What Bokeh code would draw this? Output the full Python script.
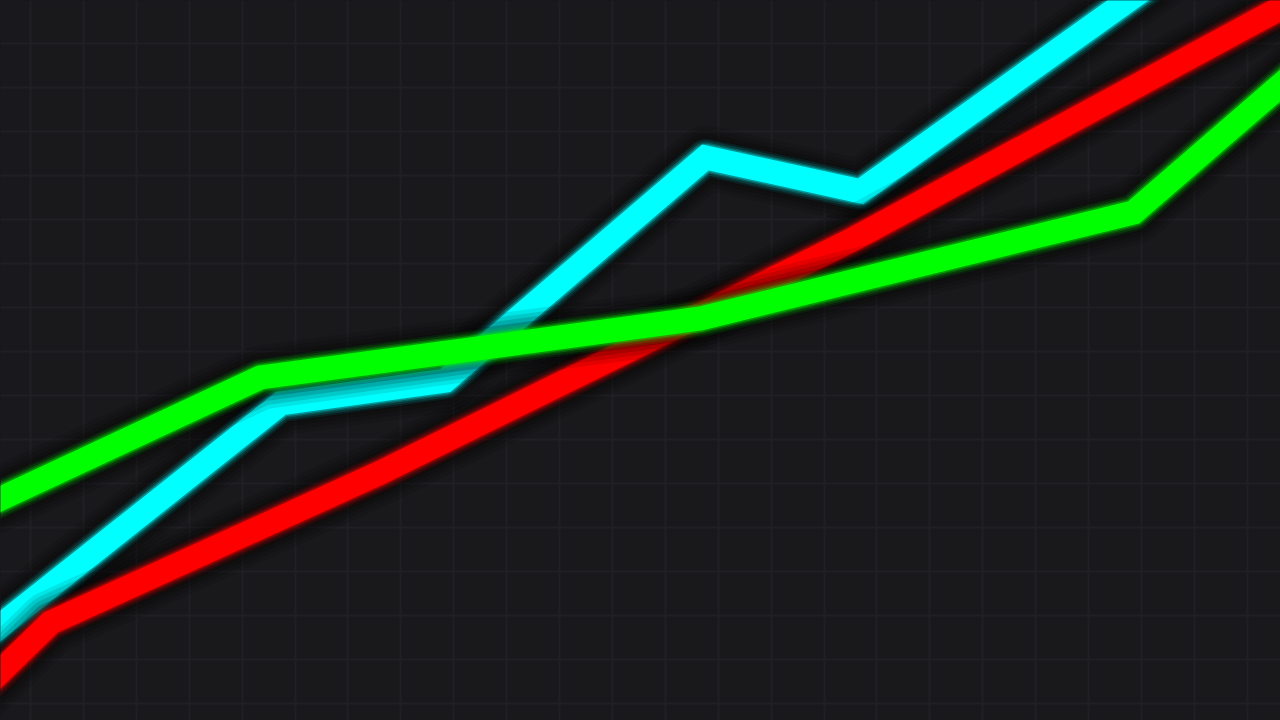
from bokeh.plotting import figure
from bokeh.models import Range1d, Grid, SingleIntervalTicker, GlobalInlineStyleSheet
from bokeh.embed import file_html
from bokeh.resources import INLINE

# Data (grid units: one grid cell = 1 unit on each axis)
x_cyan = [-1.32, 4.73, 7.84, 12.76, 15.69, 22.12]
y_cyan = [1.05, 6.82, 7.34, 12.41, 11.64, 17.16]

x_red = [-1.13, 0.38, 6.62, 15.50, 24.39]
y_red = [0.07, 1.84, 5.25, 10.52, 16.30]

x_green = [-1.13, 4.35, 12.67, 20.85, 24.39]
y_green = [4.34, 7.41, 8.75, 11.16, 14.84]

series = [
    (x_cyan, y_cyan, "#00FFFF"),
    (x_red, y_red, "#FF0000"),
    (x_green, y_green, "#00FF00"),
]

BG = "#19191c"

p = figure(
    width=1280, height=720,
    x_range=Range1d(-0.567, 23.629),
    y_range=Range1d(-0.386, 15.977),
    x_axis_type=None, y_axis_type=None,
    output_backend="svg", toolbar_location=None,
    min_border=0,
)
p.background_fill_color = BG
p.border_fill_color = BG
p.outline_line_color = None

for dim in (0, 1):
    g = Grid(dimension=dim, ticker=SingleIntervalTicker(interval=1),
             grid_line_color="#202024", grid_line_width=2)
    p.add_layout(g)

for xs, ys, col in series:
    # soft dark halo
    for w, a in [(64, 0.10), (56, 0.12), (48, 0.15), (40, 0.2)]:
        p.line(xs, ys, line_color="black", line_width=w, line_alpha=a, line_join="round")
    # coloured glow
    for w, a in [(38, 0.07), (34, 0.12), (30, 0.2), (27, 0.35)]:
        p.line(xs, ys, line_color=col, line_width=w, line_alpha=a, line_join="round")
    # core
    p.line(xs, ys, line_color=col, line_width=24, line_alpha=1.0, line_join="miter")

p.stylesheets = [GlobalInlineStyleSheet(css="body{background:%s;}" % BG)]

open("out.html", "w").write(file_html(p, INLINE))
